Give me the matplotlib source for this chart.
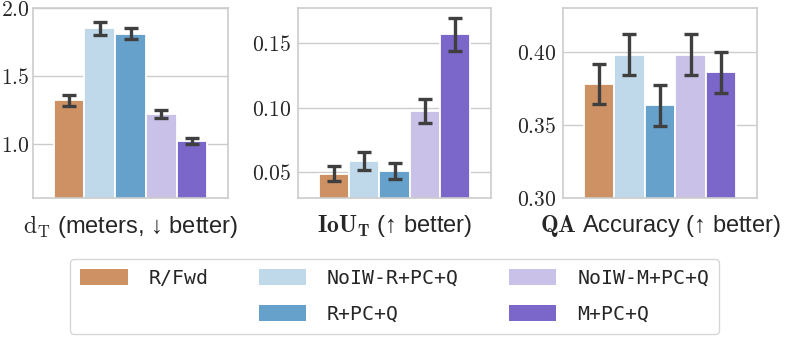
import matplotlib
matplotlib.use('Agg')
import matplotlib.pyplot as plt
from matplotlib.patches import Patch
from matplotlib.ticker import FormatStrFormatter

# 方法名称与颜色
methods = ['R/Fwd', 'NoIW-R+PC+Q', 'R+PC+Q', 'NoIW-M+PC+Q', 'M+PC+Q']
colors = ['#CD9164', '#C0D9EA', '#66A1CC', '#C9C1E8', '#7B66C9']

# d_T (meters)
dist_mean = [1.32, 1.85, 1.81, 1.22, 1.02]
dist_err = [0.04, 0.05, 0.04, 0.03, 0.025]

# IoU_T
iou_mean = [0.049, 0.0585, 0.051, 0.0977, 0.157]
iou_err = [0.006, 0.007, 0.006, 0.0092, 0.0127]

# QA accuracy
qa_mean = [0.378, 0.398, 0.3635, 0.398, 0.386]
qa_err = [0.014, 0.014, 0.014, 0.014, 0.014]

# 画图环境设置
plt.rcParams['mathtext.fontset'] = 'cm'
plt.rcParams['font.family'] = ['Liberation Sans', 'DejaVu Sans']

fig = plt.figure(figsize=(7.85, 3.38), dpi=100)
W, H = 785.0, 338.0

def make_ax(x0, x1, y0, y1):
    return fig.add_axes([x0 / W, 1 - y1 / H, (x1 - x0) / W, (y1 - y0) / H])

panels = [
    (make_ax(33, 228, 8, 198), dist_mean, dist_err, (0.6, 2.0), [1.0, 1.5, 2.0], '$%.1f$',
     r'$\mathrm{d}_\mathrm{T}$ (meters, ↓ better)', 2.5),
    (make_ax(298, 491, 8, 198), iou_mean, iou_err, (0.03, 0.1775), [0.05, 0.10, 0.15], '$%.2f$',
     r'$\mathbf{IoU}_\mathbf{T}$ (↑ better)', 5),
    (make_ax(563, 757, 8, 198), qa_mean, qa_err, (0.30, 0.43), [0.30, 0.35, 0.40], '$%.2f$',
     r'$\mathbf{QA}$ Accuracy (↑ better)', 5),
]

xs = list(range(len(methods)))
for ax, mean, err, ylim, ticks, fmt, label, pad in panels:
    ax.set_axisbelow(True)
    ax.bar(xs, mean, width=1.0, color=colors, edgecolor='white', linewidth=1.3)
    ax.errorbar(xs, mean, yerr=err, fmt='none', ecolor='#3f3f3f',
                elinewidth=2.4, capsize=5.2, capthick=2.4)
    ax.set_xlim(-1.175, 5.175)
    ax.set_ylim(*ylim)
    ax.set_yticks(ticks)
    ax.yaxis.set_major_formatter(FormatStrFormatter(fmt))
    ax.set_xticks([])
    ax.grid(axis='y', color='#cccccc', linewidth=1.0)
    for s in ax.spines.values():
        s.set_color('#cccccc')
        s.set_linewidth(1.2)
    ax.tick_params(axis='y', length=0, pad=pad, labelsize=15.5, colors='#262626')
    ax.set_xlabel(label, fontsize=17, color='#262626', labelpad=11)

# 图例 (第一列第二行留空)
handles = [Patch(facecolor=colors[0], label=methods[0]),
           Patch(facecolor='none', edgecolor='none', label=''),
           Patch(facecolor=colors[1], label=methods[1]),
           Patch(facecolor=colors[2], label=methods[2]),
           Patch(facecolor=colors[3], label=methods[3]),
           Patch(facecolor=colors[4], label=methods[4])]
leg = fig.legend(handles=handles, ncol=3, loc='upper center', bbox_to_anchor=(0.503, 1 - 259 / H),
                 prop={'family': 'DejaVu Sans Mono', 'size': 14.3},
                 handlelength=2.4, handleheight=0.8, handletextpad=1.05,
                 columnspacing=2.5, labelspacing=0.85, borderpad=0.5, borderaxespad=0,
                 frameon=True, fancybox=True, edgecolor='#cccccc')
for t in leg.get_texts():
    t.set_color('#262626')

fig.savefig('out.png', dpi=100)
